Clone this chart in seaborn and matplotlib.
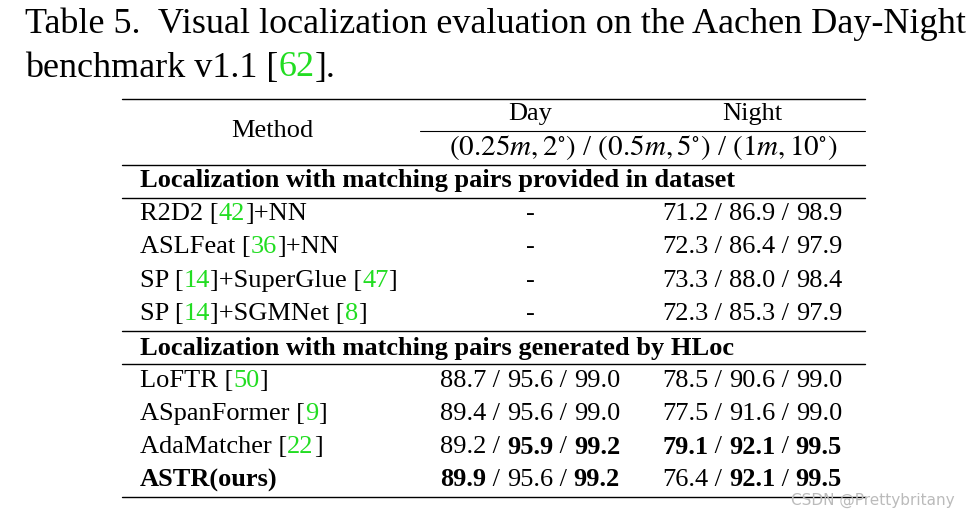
import matplotlib
matplotlib.use("Agg")
import matplotlib.pyplot as plt
import seaborn as sns

sns.set_theme(style="white")
plt.rcParams['font.family'] = ['Liberation Serif', 'DejaVu Serif']
plt.rcParams['mathtext.fontset'] = 'stix'
plt.rcParams['text.color'] = 'black'

GREEN = "#22dd22"
section1 = "Localization with matching pairs provided in dataset"
section2 = "Localization with matching pairs generated by HLoc"
methods1 = [[("R2D2 [", 0, 0), ("42", 0, 1), ("]+NN", 0, 0)],
            [("ASLFeat [", 0, 0), ("36", 0, 1), ("]+NN", 0, 0)],
            [("SP [", 0, 0), ("14", 0, 1), ("]+SuperGlue [", 0, 0), ("47", 0, 1), ("]", 0, 0)],
            [("SP [", 0, 0), ("14", 0, 1), ("]+SGMNet [", 0, 0), ("8", 0, 1), ("]", 0, 0)]]
night1 = [["71.2", "86.9", "98.9"], ["72.3", "86.4", "97.9"],
          ["73.3", "88.0", "98.4"], ["72.3", "85.3", "97.9"]]
methods2 = [[("LoFTR [", 0, 0), ("50", 0, 1), ("]", 0, 0)],
            [("ASpanFormer [", 0, 0), ("9", 0, 1), ("]", 0, 0)],
            [("AdaMatcher [", 0, 0), ("22", 0, 1), ("]", 0, 0)],
            [("ASTR(ours)", 1, 0)]]
day2 = [["88.7", "95.6", "99.0"], ["89.4", "95.6", "99.0"],
        ["89.2", "95.9", "99.2"], ["89.9", "95.6", "99.2"]]
day2_bold = [[0, 0, 0], [0, 0, 0], [0, 1, 1], [1, 0, 1]]
night2 = [["78.5", "90.6", "99.0"], ["77.5", "91.6", "99.0"],
          ["79.1", "92.1", "99.5"], ["76.4", "92.1", "99.5"]]
night2_bold = [[0, 0, 0], [0, 0, 0], [1, 1, 1], [0, 1, 1]]

W, H = 972, 519
fig = plt.figure(figsize=(W / 100, H / 100), dpi=100)
ax = fig.add_axes([0, 0, 1, 1])
ax.set_xlim(0, W); ax.set_ylim(H, 0); ax.axis("off")
r = fig.canvas.get_renderer()
FS = 19

def pieces(x, y, parts, ha="left", fs=FS):
    objs = []
    for txt, b, g in parts:
        t = ax.text(0, y, txt, fontsize=fs, va="center", fontweight="bold" if b else "normal",
                    color=GREEN if g else "black")
        objs.append(t)
    widths = [t.get_window_extent(r).width for t in objs]
    total = sum(widths)
    cx = x - total / 2 if ha == "center" else x
    for t, w in zip(objs, widths):
        t.set_x(cx); cx += w

def nums(x, y, vals, bold):
    parts = []
    for i, (v, b) in enumerate(zip(vals, bold)):
        if i: parts.append((" / ", 0, 0))
        parts.append((v, b, 0))
    pieces(x, y, parts, ha="center")

ax.text(25, 24, "Table 5.  Visual localization evaluation on the Aachen Day-Night", fontsize=26, va="center")
pieces(25, 68, [("benchmark v1.1 [", 0, 0), ("62", 0, 1), ("].", 0, 0)], fs=26)

for y in [99, 165, 198, 331, 364, 497]:
    ax.plot([122, 865], [y, y], color="black", lw=1)
ax.plot([420, 865], [131, 131], color="black", lw=0.8)

ax.text(272, 131, "Method", fontsize=FS, ha="center", va="center")
ax.text(530, 114, "Day", fontsize=FS, ha="center", va="center")
ax.text(752, 114, "Night", fontsize=FS, ha="center", va="center")
ax.text(643, 148, r"$(0.25m, 2^{\circ})$ / $(0.5m, 5^{\circ})$ / $(1m, 10^{\circ})$",
        fontsize=21, ha="center", va="center")
ax.text(140, 181, section1, fontsize=FS, fontweight="bold", va="center")
ax.text(140, 348, section2, fontsize=FS, fontweight="bold", va="center")

ys1 = [214, 247, 281, 314]
for y, m, n in zip(ys1, methods1, night1):
    pieces(140, y, m)
    ax.text(530, y, "-", fontsize=FS, ha="center", va="center")
    nums(752, y, n, [0, 0, 0])
ys2 = [381, 414, 447, 480]
for i, y in enumerate(ys2):
    pieces(140, y, methods2[i])
    nums(530, y, day2[i], day2_bold[i])
    nums(752, y, night2[i], night2_bold[i])

ax.text(955, 500, "CSDN @Prettybritany", fontsize=11, ha="right", va="center",
        color="#bbbbbb", family=["DejaVu Sans"])
fig.savefig("out.png", dpi=100, facecolor="white")
